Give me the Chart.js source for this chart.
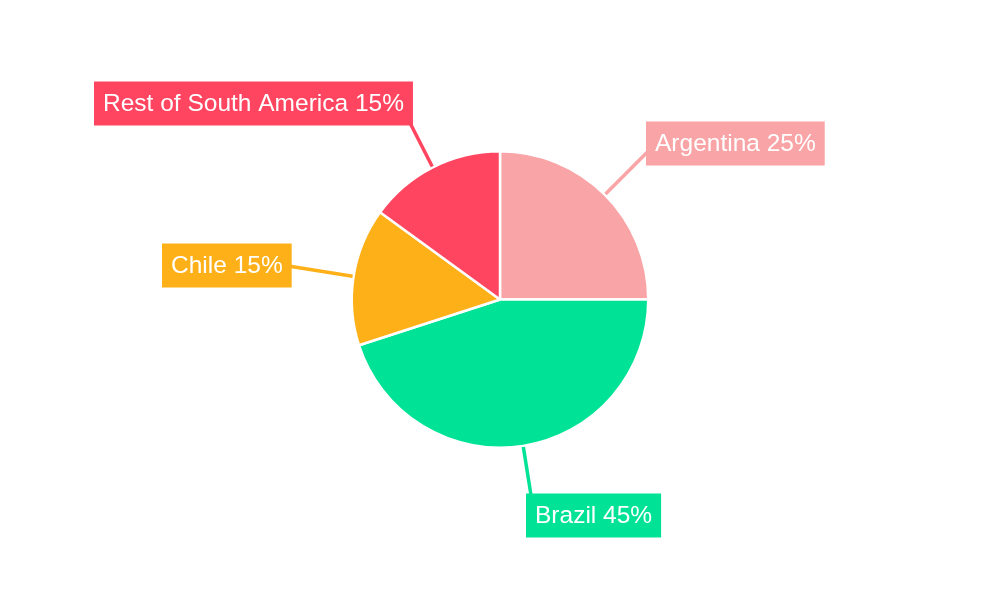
<!DOCTYPE html>
<html>
<head>
<meta charset="utf-8">
<style>
  html, body { margin: 0; padding: 0; background: #fff; }
  #wrap { width: 1000px; height: 600px; }
</style>
<script src="https://cdn.jsdelivr.net/npm/chart.js@4/dist/chart.umd.min.js"></script>
</head>
<body>
<div id="wrap"><canvas id="pie"></canvas></div>
<script>
// data
const regions = ['Argentina', 'Brazil', 'Chile', 'Rest of South America'];
const shares = [25, 45, 15, 15];
const sliceColors = ['#F9A4A6', '#00E396', '#FEB019', '#FF4560'];

// where the label boxes sit (top-left corner, relative to the pie centre)
const boxOffsets = [[146, -178], [26, 194], [-338, -56], [-406, -218]];

// radial leader lines + coloured boxes with the label
const calloutPlugin = {
  id: 'callouts',
  afterDatasetsDraw(chart) {
    const ctx = chart.ctx;
    const meta = chart.getDatasetMeta(0);
    ctx.save();
    ctx.font = '24.5px "Liberation Sans", Arial, sans-serif';
    ctx.textBaseline = 'middle';
    meta.data.forEach((arc, i) => {
      const mid = (arc.startAngle + arc.endAngle) / 2;
      const dx = Math.cos(mid), dy = Math.sin(mid);
      const text = regions[i] + ' ' + shares[i] + '%';
      const padX = 9, h = 44;
      const w = ctx.measureText(text).width + padX * 2;
      const bx = arc.x + boxOffsets[i][0];
      const by = arc.y + boxOffsets[i][1];

      // find where the ray from the centre enters the box
      let t0 = 0, t1 = Infinity;
      [[dx, arc.x, bx, bx + w], [dy, arc.y, by, by + h]].forEach(([d, o, lo, hi]) => {
        if (Math.abs(d) < 1e-9) return;
        let a = (lo - o) / d, b = (hi - o) / d;
        if (a > b) [a, b] = [b, a];
        t0 = Math.max(t0, a);
        t1 = Math.min(t1, b);
      });
      const r1 = arc.outerRadius + 1;
      const r2 = t0 + 2;

      ctx.strokeStyle = sliceColors[i];
      ctx.lineWidth = 3.5;
      ctx.beginPath();
      ctx.moveTo(arc.x + dx * r1, arc.y + dy * r1);
      ctx.lineTo(arc.x + dx * r2, arc.y + dy * r2);
      ctx.stroke();

      ctx.fillStyle = sliceColors[i];
      ctx.fillRect(bx, by, w, h);
      ctx.fillStyle = '#fff';
      ctx.fillText(text, bx + padX, by + h / 2 + 1);
    });
    ctx.restore();
  }
};

new Chart(document.getElementById('pie'), {
  type: 'pie',
  data: {
    labels: regions,
    datasets: [{
      data: shares,
      backgroundColor: sliceColors,
      borderColor: '#fff',
      borderWidth: 2.5
    }]
  },
  options: {
    responsive: true,
    maintainAspectRatio: false,
    animation: false,
    layout: { padding: { top: 150, bottom: 151, left: 10, right: 10 } },
    plugins: {
      legend: { display: false },
      tooltip: { enabled: false }
    }
  },
  plugins: [calloutPlugin]
});
</script>
</body>
</html>
